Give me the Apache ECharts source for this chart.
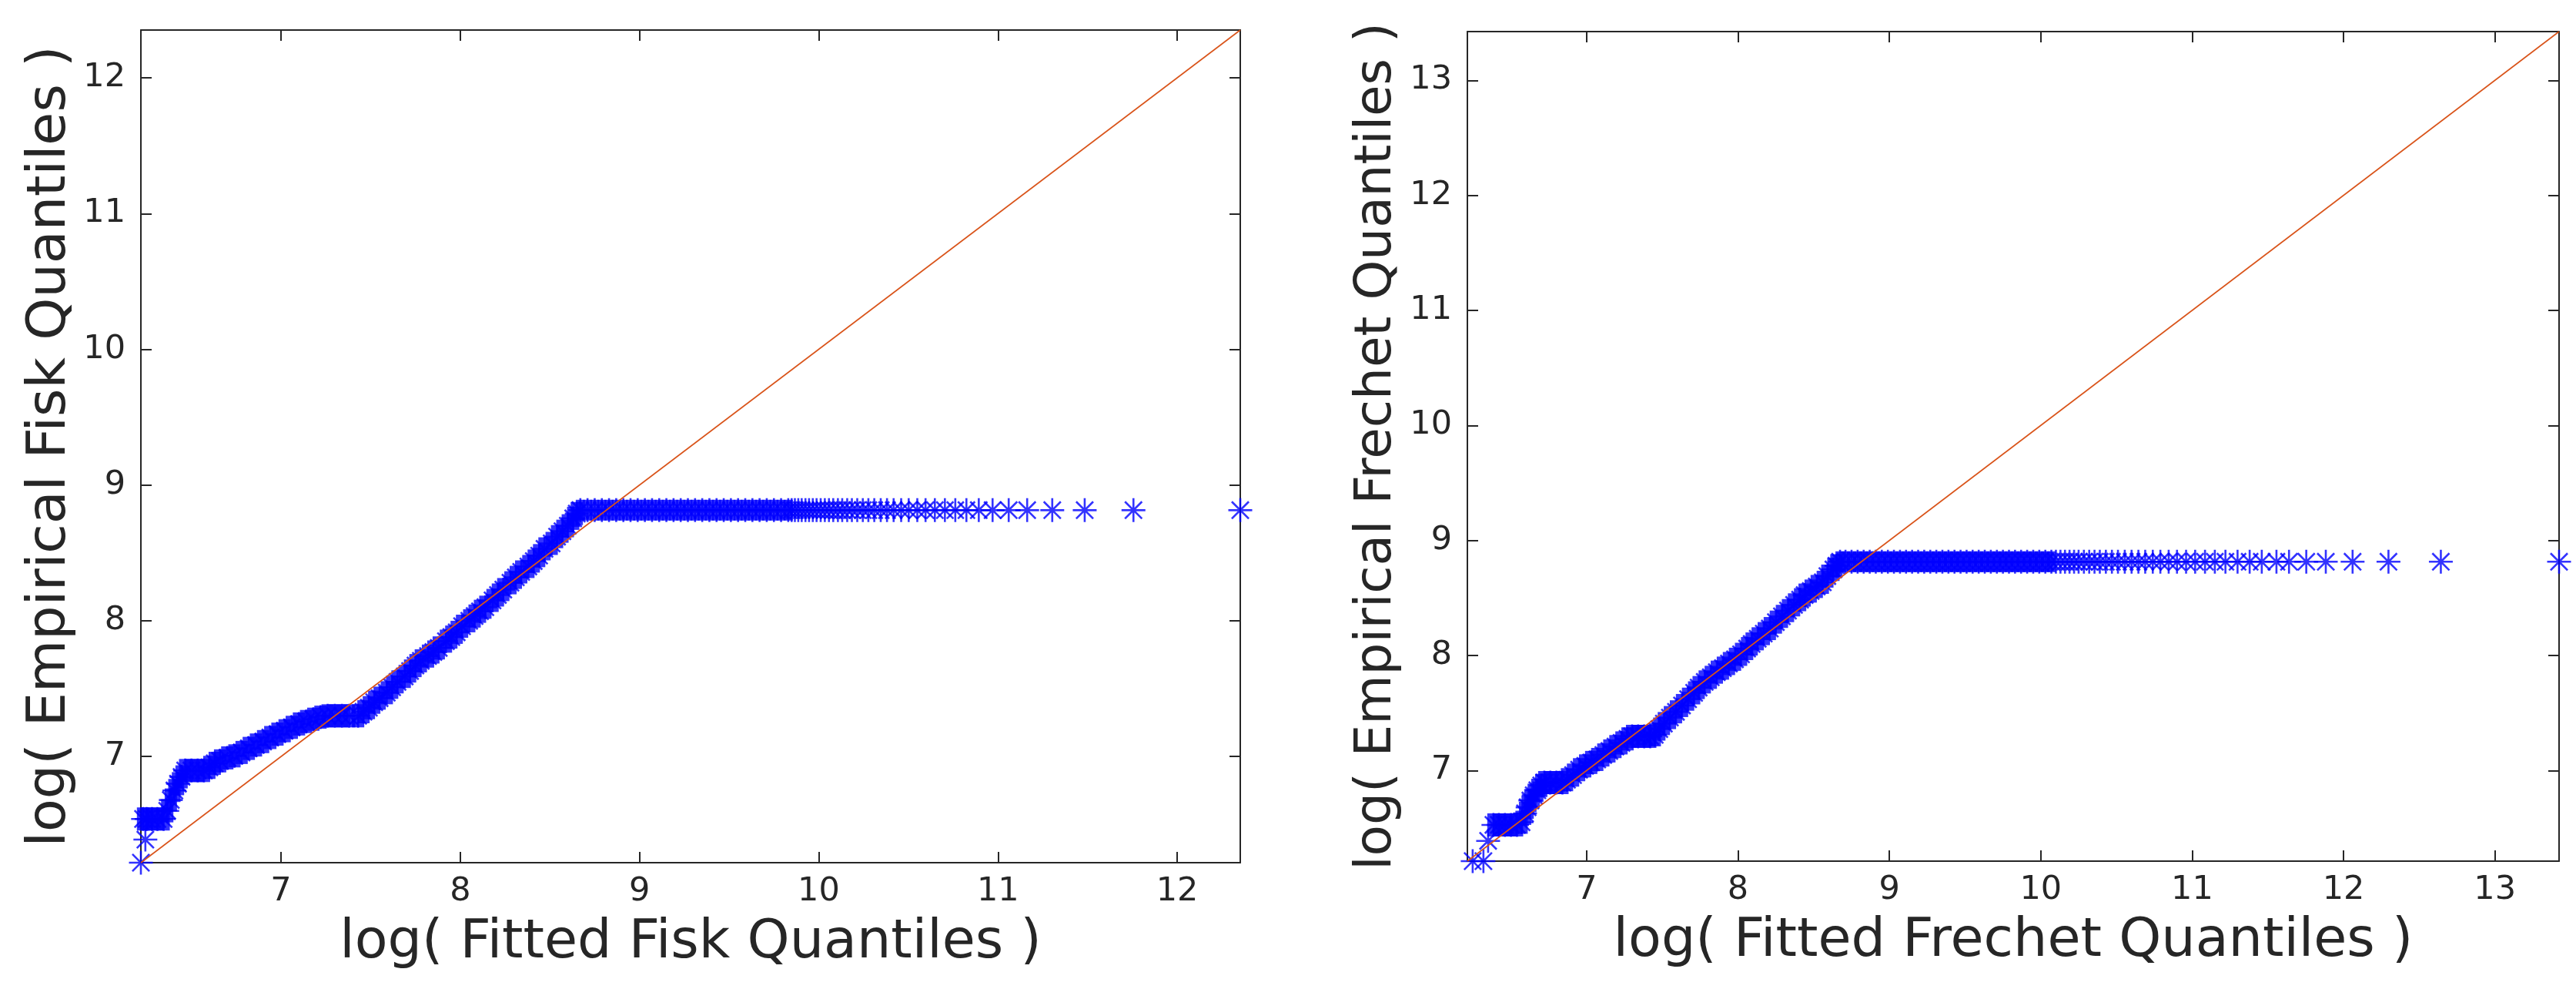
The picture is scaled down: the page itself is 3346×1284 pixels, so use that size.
<!DOCTYPE html>
<html>
<head>
<meta charset="utf-8">
<script src="https://cdn.jsdelivr.net/npm/echarts@6.0.0/dist/echarts.min.js"></script>
<style>
html,body{margin:0;padding:0;background:#fff;}
#chart{width:3346px;height:1284px;}
</style>
</head>
<body>
<div id="chart"></div>
<script>
// ---------------- data ----------------
const flatEmpirical = 8.815;

// Fisk panel
const fiskLimits = [6.218, 12.352];
const fiskTicks = [7, 8, 9, 10, 11, 12];
const fiskLowX = [6.218, 6.243];
const fiskLowY = [6.218, 6.388];
const fiskBodyX = [6.23, 6.25, 6.28, 6.31, 6.345, 6.365, 6.385, 6.405, 6.425, 6.445, 6.465, 6.50, 6.535, 6.57,
  6.60, 6.63, 6.66, 6.70, 6.74, 6.78, 6.82, 6.86, 6.90, 6.94, 6.98, 7.02, 7.06, 7.10, 7.14, 7.18, 7.22,
  7.26, 7.30, 7.34, 7.38, 7.43, 7.46, 7.49, 7.52, 7.55, 7.59, 7.62, 7.65, 7.69, 7.72, 7.75, 7.78, 7.82,
  7.85, 7.88, 7.92, 7.95, 7.98, 8.01, 8.05, 8.08, 8.11, 8.14, 8.18, 8.21, 8.24, 8.28, 8.31, 8.34, 8.38,
  8.41, 8.44, 8.47, 8.51, 8.54, 8.57, 8.60, 8.63, 8.65, 8.67,
  8.71, 8.75, 8.79, 8.83, 8.87, 8.91, 8.95, 8.99, 9.03, 9.07, 9.11, 9.15, 9.19, 9.23, 9.27, 9.31, 9.35,
  9.39, 9.43, 9.47, 9.51, 9.55, 9.59, 9.63, 9.67, 9.71, 9.75, 9.79, 9.83];
const fiskBodyY = [6.54, 6.54, 6.54, 6.54, 6.54, 6.60, 6.68, 6.75, 6.80, 6.85, 6.897, 6.897, 6.897, 6.897,
  6.92, 6.95, 6.968, 6.99, 7.005, 7.03, 7.06, 7.085, 7.11, 7.14, 7.165, 7.19, 7.215, 7.24, 7.258, 7.275, 7.29,
  7.30, 7.30, 7.30, 7.30, 7.30, 7.33, 7.36, 7.40, 7.43, 7.47, 7.51, 7.55, 7.59, 7.63, 7.67, 7.705, 7.74,
  7.77, 7.80, 7.85, 7.88, 7.915, 7.96, 8.00, 8.035, 8.07, 8.10, 8.15, 8.19, 8.23, 8.28, 8.32, 8.36, 8.40,
  8.44, 8.48, 8.53, 8.57, 8.62, 8.66, 8.70, 8.755, 8.79, 8.815,
  8.815, 8.815, 8.815, 8.815, 8.815, 8.815, 8.815, 8.815, 8.815, 8.815, 8.815, 8.815, 8.815, 8.815, 8.815, 8.815, 8.815,
  8.815, 8.815, 8.815, 8.815, 8.815, 8.815, 8.815, 8.815, 8.815, 8.815, 8.815, 8.815];
const fiskTailX = [9.849, 9.867, 9.886, 9.905, 9.926, 9.946, 9.967, 9.988, 10.011, 10.034, 10.057, 10.081,
  10.107, 10.131, 10.159, 10.185, 10.215, 10.246, 10.277, 10.31, 10.346, 10.381, 10.418, 10.46, 10.502,
  10.55, 10.596, 10.648, 10.704, 10.762, 10.824, 10.893, 10.97, 11.06, 11.163, 11.303, 11.484, 11.756, 12.352];

// Frechet panel
const frechetLimits = [6.212, 13.424];
const frechetTicks = [7, 8, 9, 10, 11, 12, 13];
const frechetLowX = [6.247, 6.318, 6.349];
const frechetLowY = [6.212, 6.212, 6.388];
const frechetBodyX = [6.384, 6.42, 6.46, 6.50, 6.54, 6.57, 6.593, 6.61, 6.628, 6.65, 6.674, 6.70, 6.72,
  6.76, 6.80, 6.84, 6.87, 6.91, 6.95, 6.99, 7.03, 7.07, 7.11, 7.15, 7.19, 7.23, 7.27, 7.30, 7.34, 7.38,
  7.42, 7.45, 7.48, 7.51, 7.55, 7.59, 7.63, 7.67, 7.71, 7.74, 7.78, 7.82, 7.86, 7.90, 7.94, 7.98, 8.02,
  8.06, 8.09, 8.13, 8.17, 8.21, 8.25, 8.29, 8.33, 8.37, 8.41, 8.44, 8.48, 8.52, 8.56, 8.59, 8.63, 8.65, 8.674,
  8.71, 8.75, 8.79, 8.83, 8.87, 8.91, 8.95, 8.99, 9.03, 9.07, 9.11, 9.15, 9.19, 9.23, 9.27, 9.31, 9.35,
  9.39, 9.43, 9.47, 9.51, 9.55, 9.59, 9.63, 9.67, 9.71, 9.75, 9.79, 9.83, 9.87, 9.91, 9.95, 9.99, 10.03, 10.07];
const frechetBodyY = [6.527, 6.527, 6.527, 6.527, 6.527, 6.55, 6.627, 6.68, 6.739, 6.785, 6.828, 6.87, 6.895,
  6.895, 6.895, 6.895, 6.92, 6.96, 7.007, 7.04, 7.07, 7.096, 7.135, 7.17, 7.208, 7.24, 7.275, 7.297, 7.297, 7.297,
  7.297, 7.31, 7.36, 7.408, 7.46, 7.51, 7.565, 7.62, 7.675, 7.721, 7.77, 7.81, 7.855, 7.89, 7.93, 7.967, 8.01,
  8.06, 8.10, 8.145, 8.19, 8.234, 8.29, 8.34, 8.39, 8.44, 8.485, 8.525, 8.56, 8.60, 8.636, 8.69, 8.748, 8.78, 8.815,
  8.815, 8.815, 8.815, 8.815, 8.815, 8.815, 8.815, 8.815, 8.815, 8.815, 8.815, 8.815, 8.815, 8.815, 8.815, 8.815, 8.815,
  8.815, 8.815, 8.815, 8.815, 8.815, 8.815, 8.815, 8.815, 8.815, 8.815, 8.815, 8.815, 8.815, 8.815, 8.815, 8.815, 8.815, 8.815];
const frechetTailX = [10.10, 10.13, 10.16, 10.19, 10.22, 10.25, 10.285, 10.32, 10.355, 10.39, 10.43, 10.47,
  10.51, 10.555, 10.60, 10.645, 10.69, 10.74, 10.79, 10.845, 10.90, 10.96, 11.02, 11.085, 11.15, 11.22,
  11.30, 11.38, 11.46, 11.557, 11.64, 11.754, 11.883, 12.06, 12.297, 12.643, 13.424];

const xTitles = ['log( Fitted Fisk Quantiles )', 'log( Fitted Frechet Quantiles )'];
const yTitles = ['log( Empirical Fisk Quantiles )', 'log( Empirical Frechet Quantiles )'];

// ---------------- chart ----------------
const FONT = 'DejaVu Sans';
const AX = '#262626';
const BLUE = '#0000ff';
const ORANGE = '#D95319';
const STAR = 'path://M0,14 L28,14 M14,0 L14,28 M4,4 L24,24 M4,24 L24,4';

function pairs(xs, ys) { return xs.map((x, i) => [x, ys[i]]); }
function constPairs(xs, y) { return xs.map(x => [x, y]); }

const panels = [
  { lim: fiskLimits, ticks: fiskTicks, low: pairs(fiskLowX, fiskLowY), body: pairs(fiskBodyX, fiskBodyY),
    tail: constPairs(fiskTailX, flatEmpirical), yTitleSize: 70, yGap: 82 },
  { lim: frechetLimits, ticks: frechetTicks, low: pairs(frechetLowX, frechetLowY), body: pairs(frechetBodyX, frechetBodyY),
    tail: constPairs(frechetTailX, flatEmpirical), yTitleSize: 66, yGap: 84 }
];

const grids = [
  { left: 183, top: 39, width: 1428, height: 1081 },
  { left: 1906, top: 41, width: 1418, height: 1077 }
];

const option = {
  animation: false,
  backgroundColor: '#ffffff',
  grid: grids.map(g => Object.assign({ containLabel: false, outerBoundsMode: 'none', show: false }, g)),
  xAxis: [],
  yAxis: [],
  series: []
};

panels.forEach((p, i) => {
  const lineStyle = { color: AX, width: 2 };
  const tickStyle = { color: AX, width: 2 };
  option.xAxis.push({
    type: 'value', gridIndex: i, position: 'bottom', min: p.lim[0], max: p.lim[1],
    axisLine: { show: true, onZero: false, lineStyle },
    axisTick: { show: true, inside: true, length: 14, lineStyle: tickStyle, customValues: p.ticks },
    axisLabel: { show: true, customValues: p.ticks, margin: 16, color: AX, fontFamily: FONT, fontSize: 43 },
    splitLine: { show: false },
    name: xTitles[i], nameLocation: 'middle', nameGap: 70,
    nameTextStyle: { color: AX, fontFamily: FONT, fontSize: 70 }
  });
  option.xAxis.push({
    type: 'value', gridIndex: i, position: 'top', min: p.lim[0], max: p.lim[1],
    axisLine: { show: true, onZero: false, lineStyle },
    axisTick: { show: true, inside: true, length: 14, lineStyle: tickStyle, customValues: p.ticks },
    axisLabel: { show: false }, splitLine: { show: false }
  });
  option.yAxis.push({
    type: 'value', gridIndex: i, position: 'left', min: p.lim[0], max: p.lim[1],
    axisLine: { show: true, onZero: false, lineStyle },
    axisTick: { show: true, inside: true, length: 14, lineStyle: tickStyle, customValues: p.ticks },
    axisLabel: { show: true, customValues: p.ticks, margin: 20, color: AX, fontFamily: FONT, fontSize: 43 },
    splitLine: { show: false },
    name: yTitles[i], nameLocation: 'middle', nameGap: p.yGap,
    nameTextStyle: { color: AX, fontFamily: FONT, fontSize: p.yTitleSize }
  });
  option.yAxis.push({
    type: 'value', gridIndex: i, position: 'right', min: p.lim[0], max: p.lim[1],
    axisLine: { show: true, onZero: false, lineStyle },
    axisTick: { show: true, inside: true, length: 14, lineStyle: tickStyle, customValues: p.ticks },
    axisLabel: { show: false }, splitLine: { show: false }
  });

  const xi = i * 2, yi = i * 2;
  // dense overlap of many markers: solid core (a little wider where the band rises)
  option.series.push({
    type: 'scatter', xAxisIndex: xi, yAxisIndex: yi, clip: false, silent: true,
    symbol: 'rect',
    symbolSize: v => (v[1] < flatEmpirical ? [16, 30] : [12, 27]),
    itemStyle: { color: BLUE },
    data: p.body, z: 2
  });
  // asterisk markers
  option.series.push({
    type: 'scatter', xAxisIndex: xi, yAxisIndex: yi, clip: false, silent: true,
    symbol: STAR, symbolSize: 31,
    itemStyle: { color: 'rgba(0,0,0,0)', borderColor: BLUE, borderWidth: 2.6 },
    data: p.low.concat(p.body, p.tail), z: 3
  });
  // reference line y = x
  option.series.push({
    type: 'line', xAxisIndex: xi, yAxisIndex: yi, silent: true, symbol: 'none',
    lineStyle: { color: ORANGE, width: 1.6 },
    data: [[p.lim[0], p.lim[0]], [p.lim[1], p.lim[1]]], z: 4
  });
});

const chart = echarts.init(document.getElementById('chart'), null, { renderer: 'canvas' });
chart.setOption(option);
</script>
</body>
</html>
